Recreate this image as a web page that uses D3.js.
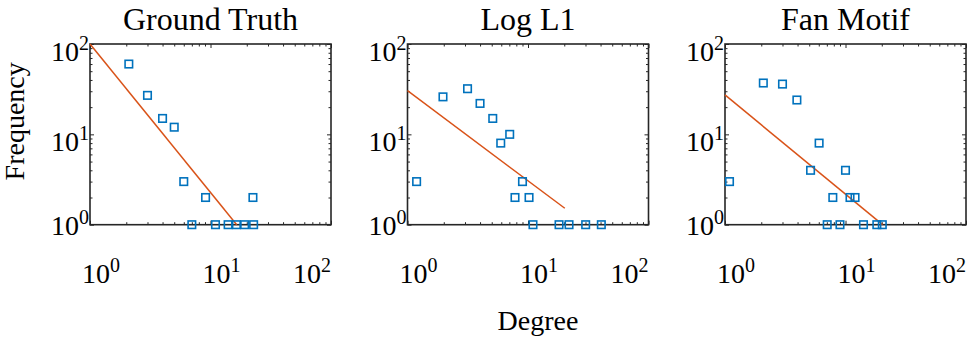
<!DOCTYPE html>
<html>
<head>
<meta charset="utf-8">
<script src="https://cdn.jsdelivr.net/npm/d3@7"></script>
<style>
  html, body { margin: 0; padding: 0; background: #fff; }
  svg { display: block; }
  text { font-family: "Liberation Serif", "Times New Roman", serif; fill: #000; }
  .frame { fill: none; stroke: #262626; stroke-width: 1.6; }
  .ticks line { stroke: #262626; stroke-width: 1; }
  .ticks path { display: none; }
</style>
</head>
<body>
<div id="chart"></div>
<script>
const W = 969, H = 337;

const titles = ["Ground Truth", "Log L1", "Fan Motif"];

// Ground Truth
const gtDegree = [2.1, 3, 4, 5, 6, 9.1, 22.5, 7, 11, 14, 16.4, 19.2, 22.8];
const gtFreq = [60, 27, 15, 12, 3, 2, 2, 1, 1, 1, 1, 1, 1];
const gtFitDegree = [1, 16.5];
const gtFitFreq = [100, 1];

// Log L1
const l1Degree = [1.19, 1.97, 3.15, 4, 5.1, 5.94, 7.05, 9, 7.8, 10.2, 11, 18.1, 21.9, 30.1, 40.6];
const l1Freq = [3, 26, 32, 22, 15, 8, 10, 3, 2, 2, 1, 1, 1, 1, 1];
const l1FitDegree = [1, 20.2];
const l1FitFreq = [30.4, 1.52];

// Fan Motif
const fanDegree = [1.09, 2.08, 3, 3.95, 6.04, 5.13, 10, 7.85, 10.9, 12, 7.05, 9, 14.1, 18.2, 20.2];
const fanFreq = [3, 37, 36, 24, 8, 4, 4, 2, 2, 2, 1, 1, 1, 1, 1];
const fanFitDegree = [1, 20.3];
const fanFitFreq = [27.3, 1];

const panels = [
  { title: titles[0], x: gtDegree, y: gtFreq, fx: gtFitDegree, fy: gtFitFreq },
  { title: titles[1], x: l1Degree, y: l1Freq, fx: l1FitDegree, fy: l1FitFreq },
  { title: titles[2], x: fanDegree, y: fanFreq, fx: fanFitDegree, fy: fanFitFreq },
];

const majorTicks = [1, 10, 100];
const minorTicks = [2, 3, 4, 5, 6, 7, 8, 9, 20, 30, 40, 50, 60, 70, 80, 90];
const exponents = ["0", "1", "2"];

const BLUE = "#0072BD";
const ORANGE = "#D95319";
const FRAME_LEFT = [90, 407.5, 725];
const FRAME_TOP = 44;
const PW = 241, PH = 180.7;

const svg = d3.select("#chart").append("svg")
  .attr("width", W).attr("height", H)
  .attr("viewBox", `0 0 ${W} ${H}`);

function tenPower(sel, exp) {
  sel.append("tspan").text("10");
  sel.append("tspan").attr("dy", -11).attr("font-size", 20).text(exp);
}

panels.forEach((p, i) => {
  const g = svg.append("g").attr("transform", `translate(${FRAME_LEFT[i]},${FRAME_TOP})`);
  const x = d3.scaleLog().domain([1, 100]).range([0, PW]);
  const y = d3.scaleLog().domain([1, 100]).range([PH, 0]);

  // inward ticks on all four sides
  const tickSets = [[majorTicks, 4], [minorTicks, 2.5]];
  tickSets.forEach(([vals, len]) => {
    g.append("g").attr("class", "ticks").attr("transform", `translate(0,${PH})`)
      .call(d3.axisBottom(x).tickValues(vals).tickSize(-len).tickFormat(""));
    g.append("g").attr("class", "ticks")
      .call(d3.axisTop(x).tickValues(vals).tickSize(-len).tickFormat(""));
    g.append("g").attr("class", "ticks")
      .call(d3.axisLeft(y).tickValues(vals).tickSize(-len).tickFormat(""));
    g.append("g").attr("class", "ticks").attr("transform", `translate(${PW},0)`)
      .call(d3.axisRight(y).tickValues(vals).tickSize(-len).tickFormat(""));
  });

  g.append("rect").attr("class", "frame").attr("width", PW).attr("height", PH);

  // fit line
  g.append("path")
    .datum(d3.zip(p.fx, p.fy))
    .attr("fill", "none")
    .attr("stroke", ORANGE)
    .attr("stroke-width", 1.5)
    .attr("d", d3.line().x(d => x(d[0])).y(d => y(d[1])));

  // markers
  const s = 7.5;
  g.selectAll("rect.pt")
    .data(d3.zip(p.x, p.y))
    .join("rect")
    .attr("class", "pt")
    .attr("x", d => x(d[0]) - s / 2)
    .attr("y", d => y(d[1]) - s / 2)
    .attr("width", s).attr("height", s)
    .attr("fill", "none")
    .attr("stroke", BLUE)
    .attr("stroke-width", 1.6);

  // x tick labels
  majorTicks.forEach((v, k) => {
    const t = g.append("text").attr("font-size", 28).attr("y", 239.3);
    tenPower(t, exponents[k]);
    const w = t.node().getComputedTextLength();
    t.attr("x", Math.min(x(v) - 8, PW - w));
  });

  // y tick labels
  majorTicks.forEach((v, k) => {
    const t = g.append("text").attr("font-size", 28).attr("text-anchor", "end")
      .attr("x", -1)
      .attr("y", Math.min(y(v) + 16.5, PH + 10.5));
    tenPower(t, exponents[k]);
  });

  g.append("text")
    .attr("x", PW / 2).attr("y", 30 - FRAME_TOP)
    .attr("text-anchor", "middle")
    .attr("font-size", 32)
    .text(p.title);
});

svg.append("text")
  .attr("transform", `translate(24,${FRAME_TOP + PH / 2 - 13}) rotate(-90)`)
  .attr("text-anchor", "middle")
  .attr("font-size", 28)
  .text("Frequency");

svg.append("text")
  .attr("x", FRAME_LEFT[1] + PW / 2 + 10)
  .attr("y", 330)
  .attr("text-anchor", "middle")
  .attr("font-size", 28)
  .text("Degree");
</script>
</body>
</html>
